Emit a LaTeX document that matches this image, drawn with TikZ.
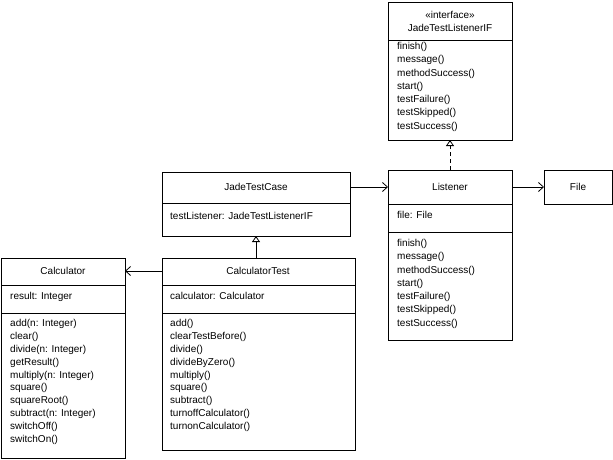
\documentclass[tikz,border=0pt]{standalone}
\usepackage{fontspec}
\setmainfont{Liberation Sans}
\usetikzlibrary{arrows.meta}
\begin{document}
\begin{tikzpicture}[x=1pt,y=-1pt,
  box/.style={draw,line width=0.8pt,anchor=north west,inner sep=0,outer sep=0},
  hd/.style={font=\fontsize{10}{13}\selectfont,align=center},
  txt/.style={anchor=north west,inner sep=0,align=left,font=\fontsize{10}{13.3}\selectfont},
  ctxt/.style={txt,font=\fontsize{10}{12.9}\selectfont},
  assoc/.style={line width=0.8pt,-{Straight Barb[length=5pt,width=9pt]}},
  inh/.style={line width=0.8pt,-{Triangle[open,length=6pt,width=8pt]}}]
\useasboundingbox (0,0) rectangle (613,460);
% interface
\node[box,minimum width=124pt,minimum height=138pt] (ifc) at (388,2) {};
\draw[line width=0.8pt] (388,40) -- (512,40);
\node[hd] (ifch) at (450,21) {«interface»\\JadeTestListenerIF};
\node[txt] (ifcm) at (397,42) {finish()\\message()\\methodSuccess()\\start()\\testFailure()\\testSkipped()\\testSuccess()};
% Listener
\node[box,minimum width=124pt,minimum height=170pt] (lis) at (388,170) {};
\draw[line width=0.8pt] (388,204) -- (512,204) (388,232) -- (512,232);
\node[hd] (lish) at (450,187) {Listener};
\node[txt] (lisa) at (397,211) {file: File};
\node[txt] (lism) at (397,239) {finish()\\message()\\methodSuccess()\\start()\\testFailure()\\testSkipped()\\testSuccess()};
% File
\node[box,minimum width=68pt,minimum height=34pt] (file) at (544,170) {};
\node[hd] (fileh) at (578,187) {File};
% JadeTestCase
\node[box,minimum width=188pt,minimum height=64pt] (jtc) at (162,172) {};
\draw[line width=0.8pt] (162,203) -- (350,203);
\node[hd] (jtch) at (256,187) {JadeTestCase};
\node[txt] (jtca) at (170,212) {testListener: JadeTestListenerIF};
% CalculatorTest
\node[box,minimum width=193pt,minimum height=192pt] (ct) at (162,258) {};
\draw[line width=0.8pt] (162,285) -- (355,285) (162,313) -- (355,313);
\node[hd] (cth) at (258,271) {CalculatorTest};
\node[txt] (cta) at (170,292) {calculator: Calculator};
\node[ctxt] (ctm) at (170,319) {add()\\clearTestBefore()\\divide()\\divideByZero()\\multiply()\\square()\\subtract()\\turnoffCalculator()\\turnonCalculator()};
% Calculator
\node[box,minimum width=124pt,minimum height=200pt] (calc) at (1,258) {};
\draw[line width=0.8pt] (1,285) -- (125,285) (1,313) -- (125,313);
\node[hd] (calch) at (63,271) {Calculator};
\node[txt] (calca) at (10,292) {result: Integer};
\node[ctxt] (calcm) at (10,319) {add(n: Integer)\\clear()\\divide(n: Integer)\\getResult()\\multiply(n: Integer)\\square()\\squareRoot()\\subtract(n: Integer)\\switchOff()\\switchOn()};
% connectors
\draw[assoc] (jtc.east |- jtch) -- (lis.west |- jtch);
\draw[assoc] (lis.east |- lish) -- (file.west |- lish);
\draw[assoc] (ct.west |- cth) -- (calc.east |- cth);
\draw[inh] (ct.north -| jtch) -- (jtc.south -| jtch);
\draw[inh,dash pattern=on 4pt off 3pt] (lis.north) -- (ifc.south);
\end{tikzpicture}
\end{document}
